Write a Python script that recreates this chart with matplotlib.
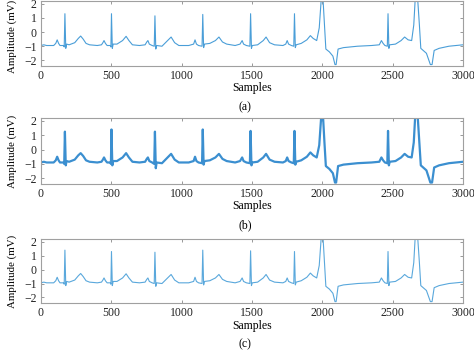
import matplotlib
matplotlib.use('Agg')
import matplotlib.pyplot as plt

plt.rcParams['font.family'] = ['Liberation Serif', 'DejaVu Serif']

# ECG trace: sample index and amplitude (mV)
samples = [0, 20, 40, 60, 90, 105, 115, 125, 135, 160, 165, 170, 176, 182, 200, 240, 265, 282, 300, 320, 345,
           400, 430, 440, 448, 458, 470, 493, 497, 501, 507, 513, 540, 580, 605, 625, 650,
           700, 740, 752, 760, 770, 790, 805, 810, 816, 822, 860, 900, 925, 950, 980,
           1050, 1085, 1095, 1105, 1120, 1145, 1150, 1156, 1162, 1200, 1240, 1265, 1290, 1320,
           1380, 1415, 1430, 1440, 1460, 1485, 1490, 1496, 1502, 1540, 1580, 1600, 1625, 1660,
           1720, 1740, 1750, 1760, 1780, 1797, 1802, 1808, 1814, 1850, 1890, 1915, 1935, 1960,
           1978, 1992, 2005, 2015, 2025, 2050, 2075, 2090, 2098, 2112, 2150, 2250, 2350,
           2405, 2420, 2432, 2445, 2462, 2467, 2473, 2479, 2520, 2560, 2585, 2610, 2635,
           2650, 2660, 2678, 2690, 2700, 2740, 2768, 2780, 2795, 2830, 2900, 3000]
ecg_a = [-0.95, -0.9, -0.95, -0.95, -0.95, -0.8, -0.55, -0.8, -0.95, -0.95, -1.05, 1.3, -1.15, -0.85, -0.9, -0.75, -0.45, -0.28, -0.5, -0.8, -0.9,
         -0.95, -0.9, -0.75, -0.6, -0.8, -0.95, -0.95, -1.05, 1.3, -1.15, -0.85, -0.85, -0.6, -0.3, -0.6, -0.9,
         -0.95, -0.9, -0.7, -0.6, -0.85, -0.95, -1.0, 1.15, -1.2, -0.95, -1.0, -0.6, -0.35, -0.75, -0.95,
         -0.95, -0.85, -0.55, -0.85, -0.95, -1.0, 1.25, -1.1, -0.85, -0.8, -0.6, -0.35, -0.7, -0.85,
         -0.95, -0.85, -0.6, -0.85, -0.95, -1.0, 1.3, -1.15, -0.95, -0.9, -0.6, -0.35, -0.75, -0.9,
         -0.95, -0.85, -0.6, -0.85, -0.95, -1.0, 1.3, -1.1, -0.9, -0.8, -0.55, -0.25, -0.45, -0.6,
         0.3, 2.3, 2.3, 0.5, -1.2, -1.4, -1.7, -2.3, -2.3, -1.2, -1.1, -1.0, -0.95,
         -0.9, -0.6, -0.8, -0.95, -1.0, 1.3, -1.15, -0.9, -0.85, -0.6, -0.35, -0.55, -0.6,
         0.5, 2.3, 2.3, 0.5, -1.15, -1.5, -2.3, -2.3, -1.3, -1.15, -1.0, -0.9]
ecg_b = [-0.9, -0.85, -0.9, -0.9, -0.9, -0.75, -0.5, -0.75, -0.9, -0.9, -1.0, 1.25, -1.1, -0.8, -0.85, -0.7, -0.4, -0.25, -0.45, -0.75, -0.85,
         -0.9, -0.85, -0.7, -0.55, -0.75, -0.9, -0.9, -1.0, 1.4, -1.1, -0.8, -0.8, -0.55, -0.25, -0.55, -0.85,
         -0.9, -0.85, -0.65, -0.55, -0.8, -0.9, -1.0, 1.25, -1.3, -0.9, -0.95, -0.55, -0.3, -0.7, -0.9,
         -0.9, -0.8, -0.5, -0.8, -0.9, -0.95, 1.4, -1.05, -0.8, -0.75, -0.55, -0.3, -0.65, -0.8,
         -0.9, -0.8, -0.55, -0.8, -0.9, -0.95, 1.3, -1.1, -0.9, -0.85, -0.55, -0.3, -0.7, -0.85,
         -0.9, -0.8, -0.55, -0.8, -0.9, -0.95, 1.3, -1.05, -0.85, -0.75, -0.5, -0.2, -0.4, -0.55,
         0.3, 2.3, 2.3, 0.5, -1.15, -1.35, -1.65, -2.3, -2.3, -1.15, -1.05, -0.95, -0.9,
         -0.85, -0.55, -0.75, -0.9, -0.95, 1.3, -1.1, -0.85, -0.8, -0.55, -0.3, -0.5, -0.55,
         0.5, 2.3, 2.3, 0.5, -1.1, -1.45, -2.3, -2.3, -1.25, -1.1, -0.95, -0.85]
ecg_c = [-0.95, -0.9, -0.95, -0.95, -0.95, -0.8, -0.55, -0.8, -0.95, -0.95, -1.05, 1.4, -1.15, -0.85, -0.9, -0.75, -0.45, -0.28, -0.5, -0.8, -0.9,
         -0.95, -0.9, -0.75, -0.6, -0.8, -0.95, -0.95, -1.05, 1.3, -1.15, -0.85, -0.85, -0.6, -0.3, -0.6, -0.9,
         -0.95, -0.9, -0.7, -0.6, -0.85, -0.95, -1.0, 1.25, -1.2, -0.95, -1.0, -0.6, -0.35, -0.75, -0.95,
         -0.95, -0.85, -0.55, -0.85, -0.95, -1.0, 1.4, -1.1, -0.85, -0.8, -0.6, -0.35, -0.7, -0.85,
         -0.95, -0.85, -0.6, -0.85, -0.95, -1.0, 1.35, -1.15, -0.95, -0.9, -0.6, -0.35, -0.75, -0.9,
         -0.95, -0.85, -0.6, -0.85, -0.95, -1.0, 1.3, -1.1, -0.9, -0.8, -0.55, -0.25, -0.45, -0.6,
         0.3, 2.3, 2.3, 0.5, -1.2, -1.4, -1.7, -2.3, -2.3, -1.2, -1.1, -1.0, -0.95,
         -0.9, -0.6, -0.8, -0.95, -1.0, 1.3, -1.15, -0.9, -0.85, -0.6, -0.35, -0.55, -0.6,
         0.5, 2.3, 2.3, 0.5, -1.15, -1.5, -2.3, -2.3, -1.3, -1.15, -1.0, -0.9]

traces = [ecg_a, ecg_b, ecg_c]
tags = ['(a)', '(b)', '(c)']
line_w = [0.8, 1.6, 0.8]
line_c = ['#4a9ed8', '#3b8fd0', '#5aa8dc']

# axes boxes in pixels (top, bottom) and the caption rows
boxes = [(1, 66), (118, 184), (239, 303)]
W, H = 474, 364
xl_y = [88, 206, 326]
tag_y = [107, 225, 344]
ylab_y = [0.45, 0.5, 0.5]

fig = plt.figure(figsize=(W / 100, H / 100), dpi=100)
for i in range(3):
    top, bot = boxes[i]
    ax = fig.add_axes([41 / W, 1 - bot / H, 422 / W, (bot - top) / H])
    ax.plot(samples, traces[i], color=line_c[i], lw=line_w[i], solid_joinstyle='round')
    ax.set_xlim(0, 3000)
    ax.set_ylim(-2.4, 2.2)
    ax.set_xticks([0, 500, 1000, 1500, 2000, 2500, 3000])
    ax.set_yticks([-2, -1, 0, 1, 2])
    ax.tick_params(direction='in', length=2.5, width=0.6, color='#888888', labelsize=8.5,
                   top=True, right=True, pad=3, labelcolor='#222222')
    for s in ax.spines.values():
        s.set_color('#a0a0a0')
        s.set_linewidth(0.8)
    ax.set_ylabel('Amplitude (mV)', fontsize=7.8)
    ax.yaxis.set_label_coords(-0.057, ylab_y[i])
    ax.xaxis.get_ticklabels()[-1].set_clip_on(False)
    fig.text(252 / W, 1 - xl_y[i] / H, 'Samples', ha='center', va='center', fontsize=8.5)
    fig.text(245 / W, 1 - tag_y[i] / H, tags[i], ha='center', va='center', fontsize=8.5)

fig.savefig('out.png', dpi=100)
